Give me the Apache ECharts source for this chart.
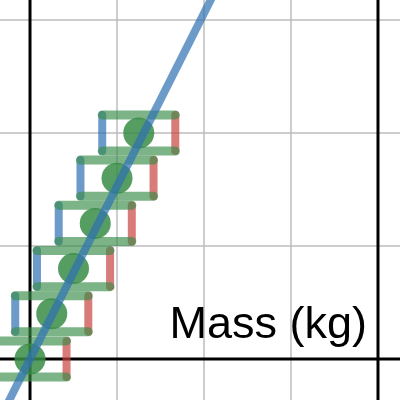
<!DOCTYPE html>
<html><head><meta charset="utf-8">
<script src="https://cdn.jsdelivr.net/npm/echarts@6/dist/echarts.min.js"></script>
<style>html,body{margin:0;padding:0;background:#fff}#c{width:400px;height:400px}</style>
</head><body><div id="c"></div>
<script>
var xVals = [0, 0.25, 0.5, 0.75, 1.0, 1.25];
var yVals = [0, 0.4, 0.8, 1.2, 1.6, 2.0];
var xErr = 0.42, yErr = 0.16;
var slope = 1.53;
var gridX = [1, 2, 3];
var gridY = [1, 2, 3];
var axisX = [0, 4];
var axisY = [0];
var label = 'Mass (kg)';
var X0 = -0.345, X1 = 4.253, Y0 = -0.363, Y1 = 3.177;

function customLines(segs, color, width, opacity, cap, z) {
  return {
    type: 'custom', z: z, silent: true,
    data: segs,
    renderItem: function (p, api) {
      var a = api.coord([api.value(0), api.value(1)]);
      var b = api.coord([api.value(2), api.value(3)]);
      return { type: 'line', shape: { x1: a[0], y1: a[1], x2: b[0], y2: b[1] },
        style: { stroke: color, lineWidth: width, opacity: opacity, lineCap: cap } };
    }
  };
}
var gridSegs = gridX.map(function (v) { return [v, Y0, v, Y1]; })
  .concat(gridY.map(function (v) { return [X0, v, X1, v]; }));
var axisSegs = axisX.map(function (v) { return [v, Y0, v, Y1]; })
  .concat(axisY.map(function (v) { return [X0, v, X1, v]; }));
var greenSegs = [], blueSegs = [], redSegs = [];
xVals.forEach(function (x, i) {
  var y = yVals[i];
  greenSegs.push([x - xErr, y + yErr, x + xErr, y + yErr]);
  greenSegs.push([x - xErr, y - yErr, x + xErr, y - yErr]);
  blueSegs.push([x - xErr, y - yErr, x - xErr, y + yErr]);
  redSegs.push([x + xErr, y - yErr, x + xErr, y + yErr]);
});
var pts = xVals.map(function (x, i) { return [x, yVals[i]]; });
var fit = [[X0, slope * X0], [X1, slope * X1]];

var chart = echarts.init(document.getElementById('c'));
chart.setOption({
  animation: false,
  grid: { left: 0, right: 0, top: 0, bottom: 0 },
  xAxis: { type: 'value', min: X0, max: X1, show: false },
  yAxis: { type: 'value', min: Y0, max: Y1, show: false },
  series: [
    customLines(gridSegs, '#bdbdbd', 1.5, 1, 'butt', 1),
    customLines(axisSegs, '#000', 3, 1, 'butt', 2),
    customLines(blueSegs, '#2d70b3', 8, 0.7, 'round', 3),
    customLines(redSegs, '#c74440', 8, 0.7, 'round', 3),
    customLines(greenSegs, '#388c46', 9, 0.65, 'round', 4),
    { type: 'scatter', z: 5, data: pts, symbolSize: 31, silent: true,
      itemStyle: { color: '#388c46', opacity: 0.85 } },
    { type: 'line', z: 6, data: fit, showSymbol: false, silent: true,
      lineStyle: { color: '#2d70b3', width: 8, opacity: 0.7 } }
  ],
  graphic: [{ type: 'text', right: 33, top: 303, z: 10,
    style: { text: label, font: '45px "Liberation Sans", Arial, sans-serif', fill: '#000' } }]
});
</script></body></html>
